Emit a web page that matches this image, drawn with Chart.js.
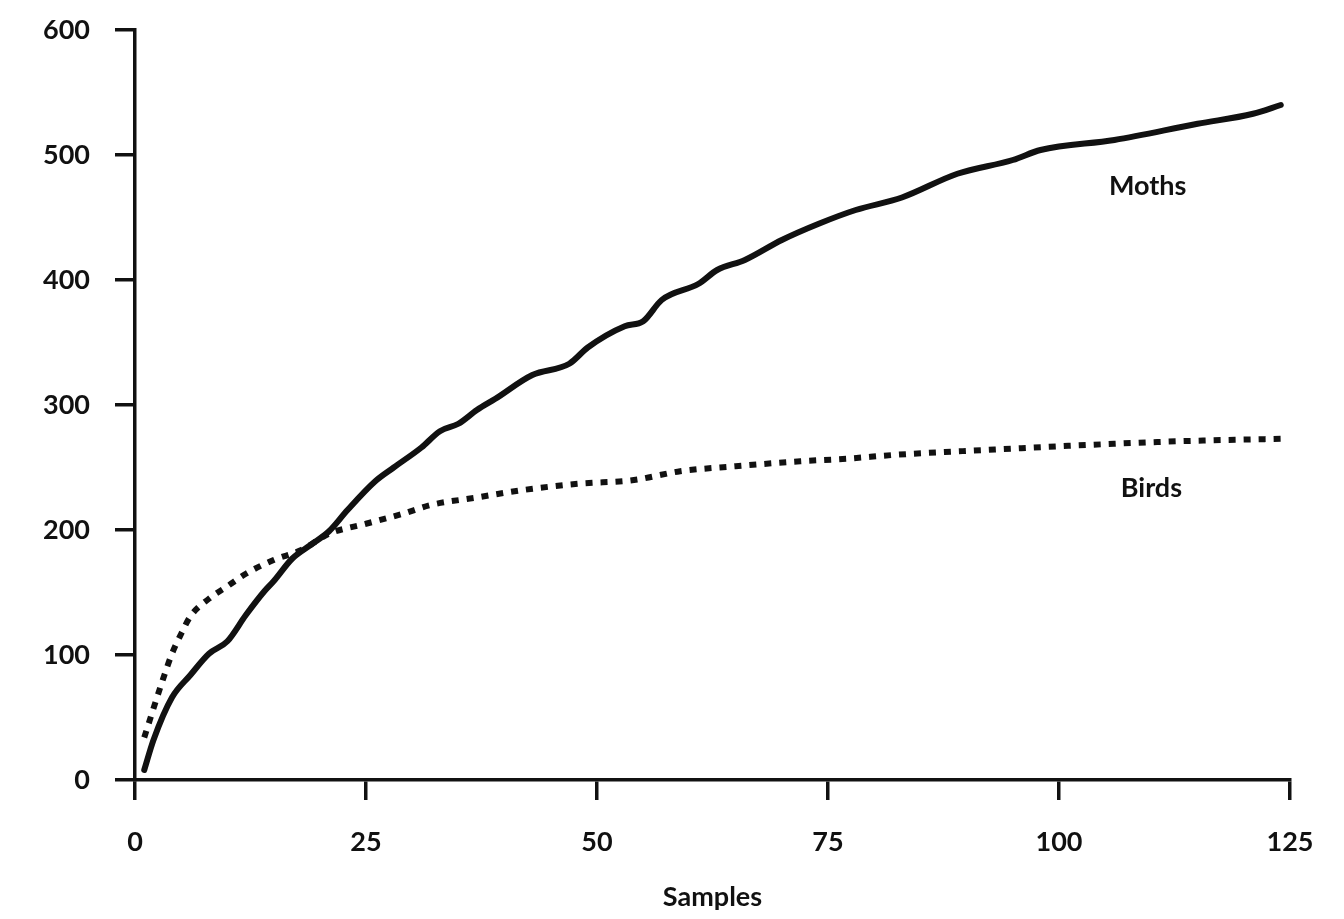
<!DOCTYPE html>
<html>
<head>
<meta charset="utf-8">
<script src="https://cdn.jsdelivr.net/npm/chart.js@4/dist/chart.umd.min.js"></script>
<style>
  html, body { margin: 0; padding: 0; background: #fff; }
  #wrap { width: 1344px; height: 919px; position: relative; }
</style>
</head>
<body>
<div id="wrap"><canvas id="myChart"></canvas></div>
<script>
const mothSamples = [1, 2, 4, 6, 8, 10, 12, 14, 15, 17, 19, 21, 23, 26, 28, 31, 33, 35, 37, 39, 43, 47, 49, 53, 55, 57, 61, 63, 66, 70, 74, 78, 83, 89, 95, 98, 106, 115, 121, 124]
const mothValues  = [8, 32, 66, 84, 101, 111, 132, 151, 159, 177, 188, 199, 216, 239, 250, 266, 279, 285, 296, 305, 324, 333, 346, 363, 367, 384, 397, 408, 416, 432, 445, 456, 466, 485, 496, 504, 512, 525, 533, 540]

const birdSamples = [1, 3, 4, 5, 6, 8, 10, 12, 15, 18, 21, 25, 29, 32, 37, 42, 48, 54, 59, 65, 72, 77, 82, 92, 103, 113, 124]
const birdValues  = [34, 80, 101, 117, 131, 145, 155, 165, 176, 184, 197, 205, 213, 220, 226, 232, 237, 240, 247, 251, 255, 257, 260, 264, 268, 271, 273]

const xTicks = [0, 25, 50, 75, 100, 125]
const yTicks = [0, 100, 200, 300, 400, 500, 600]

// series name labels, placed in data units
const seriesLabels = [
  { text: 'Moths', x: 109.6, y: 475 },
  { text: 'Birds', x: 110, y: 233 }
]

const ink = '#111'
Chart.defaults.font.family = "Lato, 'Open Sans', sans-serif"
Chart.defaults.color = ink
Chart.defaults.plugins.legend.display = false
Chart.defaults.plugins.tooltip.enabled = false

const labelPlugin = {
  id: 'seriesLabels',
  afterDatasetsDraw(chart){
    const c = chart.ctx
    const {x, y} = chart.scales
    c.save()
    c.fillStyle = ink
    c.font = "bold 27px Lato, sans-serif"
    c.textAlign = 'center'
    c.textBaseline = 'middle'
    seriesLabels.forEach(l=>{
      c.fillText(l.text, x.getPixelForValue(l.x), y.getPixelForValue(l.y))
    })
    c.restore()
  }
}

const ctx = document.getElementById('myChart')

new Chart(ctx, {
  type: 'line',
  data: {
    datasets: [{
      label: 'Moths',
      data: mothSamples.map((s, i)=>({x: s, y: mothValues[i]})),
      borderColor: ink,
      borderWidth: 6,
      pointRadius: 0,
      cubicInterpolationMode: 'monotone',
      borderCapStyle: 'round',
      borderJoinStyle: 'round'
    }, {
      label: 'Birds',
      data: birdSamples.map((s, i)=>({x: s, y: birdValues[i]})),
      borderColor: ink,
      borderWidth: 6,
      borderDash: [7, 8],
      borderCapStyle: 'butt',
      pointRadius: 0,
      cubicInterpolationMode: 'monotone'
    }]
  },
  options: {
    responsive: true,
    maintainAspectRatio: false,
    animation: false,
    layout: {
      padding: { left: 0, right: 54, top: 30, bottom: 6 }
    },
    scales: {
      x: {
        type: 'linear',
        min: 0,
        max: 125,
        afterBuildTicks: (scale)=>{ scale.ticks = xTicks.map(v=>({value: v})) },
        afterFit: (scale)=>{ scale.height = 133 },
        grid: {
          drawOnChartArea: false,
          drawTicks: true,
          tickLength: 20,
          lineWidth: 3.5,
          color: ink
        },
        border: { display: true, color: ink, width: 3.5 },
        ticks: {
          padding: 26,
          maxRotation: 0,
          font: { size: 27, weight: 'bold' }
        },
        title: {
          display: true,
          text: 'Samples',
          font: { size: 27, weight: 'bold' },
          padding: { top: 0, bottom: 0 }
        }
      },
      y: {
        min: 0,
        max: 600,
        afterBuildTicks: (scale)=>{ scale.ticks = yTicks.map(v=>({value: v})) },
        afterFit: (scale)=>{
          scale.width = 135
          scale.paddingTop = 0
        },
        grid: {
          drawOnChartArea: false,
          drawTicks: true,
          tickLength: 20,
          lineWidth: 3.5,
          color: ink
        },
        border: { display: true, color: ink, width: 3.5 },
        ticks: {
          padding: 25,
          font: { size: 27, weight: 'bold' }
        }
      }
    }
  },
  plugins: [labelPlugin]
});
</script>
</body>
</html>
